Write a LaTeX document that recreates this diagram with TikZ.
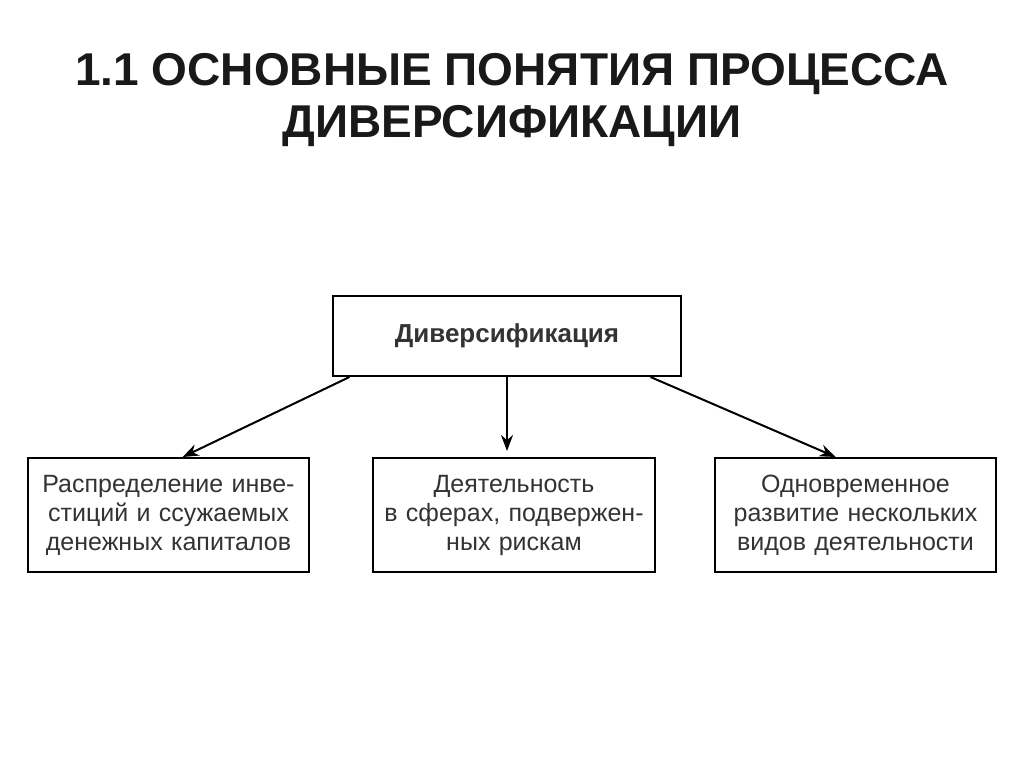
\documentclass[tikz,border=0pt]{standalone}
\usepackage{fontspec}
\setmainfont{Liberation Sans}
\usetikzlibrary{arrows.meta,calc}
\tikzstyle{arrow} = [line width=2pt,-{Stealth[length=16pt,width=12pt]}]
\tikzset{box/.style={draw, line width=2pt, minimum height=114pt, text width=275pt, align=center, font=\fontsize{25}{29}\selectfont, text=black!80}}
\begin{document}
\begin{tikzpicture}[x=1pt,y=-1pt]
\useasboundingbox (0,0) rectangle (1024,767);
\node[font=\fontsize{46}{52}\selectfont\bfseries, align=center, text=black!90] (title) at (512,100) {1.1 ОСНОВНЫЕ ПОНЯТИЯ ПРОЦЕССА\\ДИВЕРСИФИКАЦИИ};
\node[draw, line width=2pt, minimum width=348pt, minimum height=80pt, font=\fontsize{26}{30}\selectfont\bfseries, text=black!80] (div) at (507,336) {Диверсификация};
\node[box, minimum width=277pt] (left) at (168.5,515) {Распределение инве-\\стиций и ссужаемых\\денежных капиталов};
\node[box, minimum width=280pt] (mid) at (514,515) {Деятельность\\в сферах, подвержен-\\ных рискам};
\node[box, minimum width=279pt] (right) at (855.5,515) {Одновременное\\развитие нескольких\\видов деятельности};
\draw[arrow] ($(div.south west)!0.05!(div.south east)$) -- ($(left.north west)!0.55!(left.north east)$);
\draw[arrow] ($(div.south west)!0.5!(div.south east)$) -- ($(div.south west)!0.5!(div.south east)+(0,74)$);
\draw[arrow] ($(div.south west)!0.91!(div.south east)$) -- ($(right.north west)!0.43!(right.north east)$);
\end{tikzpicture}
\end{document}
